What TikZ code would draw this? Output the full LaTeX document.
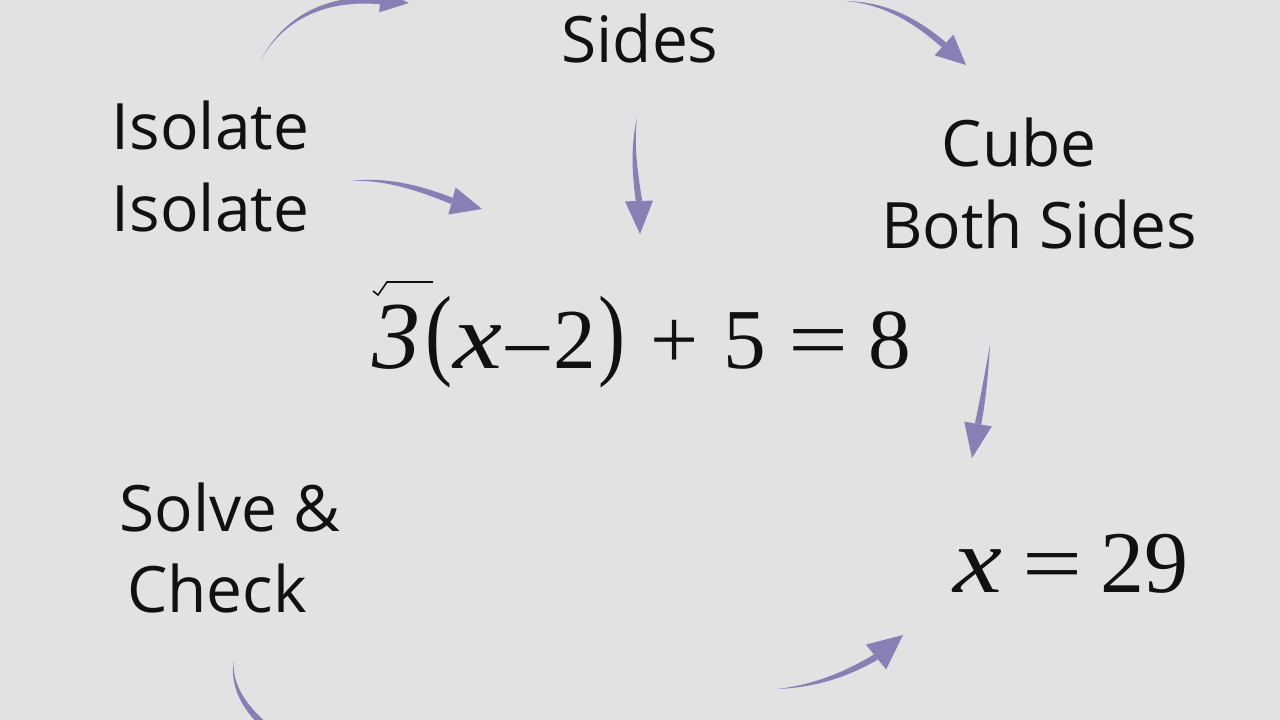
\documentclass[tikz,border=0pt]{standalone}
\usepackage{fontspec}
\usetikzlibrary{calc}
\setmainfont{Open Sans}
\newfontfamily\eqfont{Liberation Serif}
\definecolor{bgc}{HTML}{E2E2E3}
\definecolor{flowc}{HTML}{8880B4}
\definecolor{inkc}{HTML}{111111}
\newcommand\stemarc[5]{% start, c1, c2, end, half width (pt)
  \coordinate (tl) at ($(#4)!#5!90:(#3)$);
  \coordinate (tr) at ($(#4)!#5!-90:(#3)$);
  \coordinate (cl) at ($(#3)+0.9*(tl)-0.9*(#4)$);
  \coordinate (cr) at ($(#3)+0.9*(tr)-0.9*(#4)$);
  \coordinate (dl) at ($(#2)+0.5*(tl)-0.5*(#4)$);
  \coordinate (dr) at ($(#2)+0.5*(tr)-0.5*(#4)$);
  \fill[flowc] (#1) .. controls (dl) and (cl) .. (tl) -- (tr) .. controls (cr) and (dr) .. (#1) -- cycle;
}
\newcommand\headarrow[6]{% start, c1, c2, base, tip, head half width
  \stemarc{#1}{#2}{#3}{#4}{2.4pt}
  \fill[flowc] ($(#4)!#6!90:(#5)$) -- (#5) -- ($(#4)!#6!-90:(#5)$) -- cycle;
}
\tikzset{
  x=0.75pt,y=-0.75pt,
  lab/.style={anchor=base,inner sep=0pt,outer sep=0pt,text=inkc,font=\fontsize{48}{54}\selectfont},
  eq/.style={anchor=base west,inner sep=0pt,outer sep=0pt,text=inkc,font=\eqfont\fontsize{64}{72}\selectfont},
  eqit/.style={eq,font=\eqfont\itshape\fontsize{70}{72}\selectfont},
  varx/.style={eqit,xscale=1.18},
  paren/.style={eq,xscale=0.8,font=\eqfont\fontsize{76}{90}\selectfont},
  eqsym/.style={eq,xscale=1.25}
}
\begin{document}
\begin{tikzpicture}
\useasboundingbox (0,0) rectangle (1280,720);
\clip (0,0) rectangle (1280,720);
\fill[bgc] (0,0) rectangle (1280,720);
% labels
\node[lab] (sides) at (640,63) {Sides};
\node[lab] (iso1) at (210.5,150) {Isolate};
\node[lab] (iso2) at (210.5,232) {Isolate};
\node[lab] (cube) at (1019,166.5) {Cube};
\node[lab] (both) at (1039,248.5) {Both Sides};
\node[lab] (solve) at (230,531) {Solve \&};
\node[lab] (check) at (217,612) {Check};
% equation
\node[eqit] (three) at (372,368) {\fontsize{72}{72}\selectfont 3};
\node[paren] (lp) at (425,366) {(};
\node[varx] (xa) at (453,368) {x};
\node[eq] (minus) at (506,368) {–};
\node[eq] (two) at (553,368) {2};
\node[paren] (rp) at (598,366) {)};
\node[eq] (plus) at (650,368) {+};
\node[eq] (five) at (723,368) {5};
\node[eqsym] (eqsign) at (788,368) {=};
\node[eq] (eight) at (868,368) {8};
\coordinate (r1) at (373,291);
\coordinate (r2) at (378,295);
\coordinate (r3) at (387,282);
\coordinate (r4) at (433,282);
\draw[inkc,line width=1.2pt] (r1) -- (r2) -- (r3) -- (r4);
% result
\node[varx] (xb) at (953,592) {x};
\node[eqsym] (eqb) at (1022,592) {=};
\node[eq,font=\eqfont\fontsize{66}{72}\selectfont] (res) at (1100,592) {29};
% arrows
\coordinate (a1s) at (261,60); \coordinate (a1a) at (285,15); \coordinate (a1b) at (330,-3); \coordinate (a1c) at (380,1); \coordinate (a1t) at (409,3);
\headarrow{a1s}{a1a}{a1b}{a1c}{a1t}{8.5pt}
\coordinate (a2s) at (351,181); \coordinate (a2a) at (385,178); \coordinate (a2b) at (420,188); \coordinate (a2c) at (452,201); \coordinate (a2t) at (482,209);
\headarrow{a2s}{a2a}{a2b}{a2c}{a2t}{10.5pt}
\coordinate (a3s) at (637,118); \coordinate (a3a) at (632,145); \coordinate (a3b) at (635,175); \coordinate (a3c) at (639,201); \coordinate (a3t) at (640,234);
\headarrow{a3s}{a3a}{a3b}{a3c}{a3t}{10.5pt}
\coordinate (a4s) at (845,1); \coordinate (a4a) at (885,3); \coordinate (a4b) at (915,20); \coordinate (a4c) at (944,45); \coordinate (a4t) at (966,65);
\headarrow{a4s}{a4a}{a4b}{a4c}{a4t}{10.5pt}
\coordinate (a5s) at (990,345); \coordinate (a5a) at (987,370); \coordinate (a5b) at (983,400); \coordinate (a5c) at (978,424); \coordinate (a5t) at (972,458);
\headarrow{a5s}{a5a}{a5b}{a5c}{a5t}{10.5pt}
\coordinate (a6s) at (777,689); \coordinate (a6a) at (815,686); \coordinate (a6b) at (845,675); \coordinate (a6c) at (876,657); \coordinate (a6t) at (903,635);
\headarrow{a6s}{a6a}{a6b}{a6c}{a6t}{12pt}
\coordinate (a7s) at (234,660); \coordinate (a7a) at (230,685); \coordinate (a7b) at (245,710); \coordinate (a7c) at (270,730);
\stemarc{a7s}{a7a}{a7b}{a7c}{2.6pt}
\end{tikzpicture}
\end{document}
